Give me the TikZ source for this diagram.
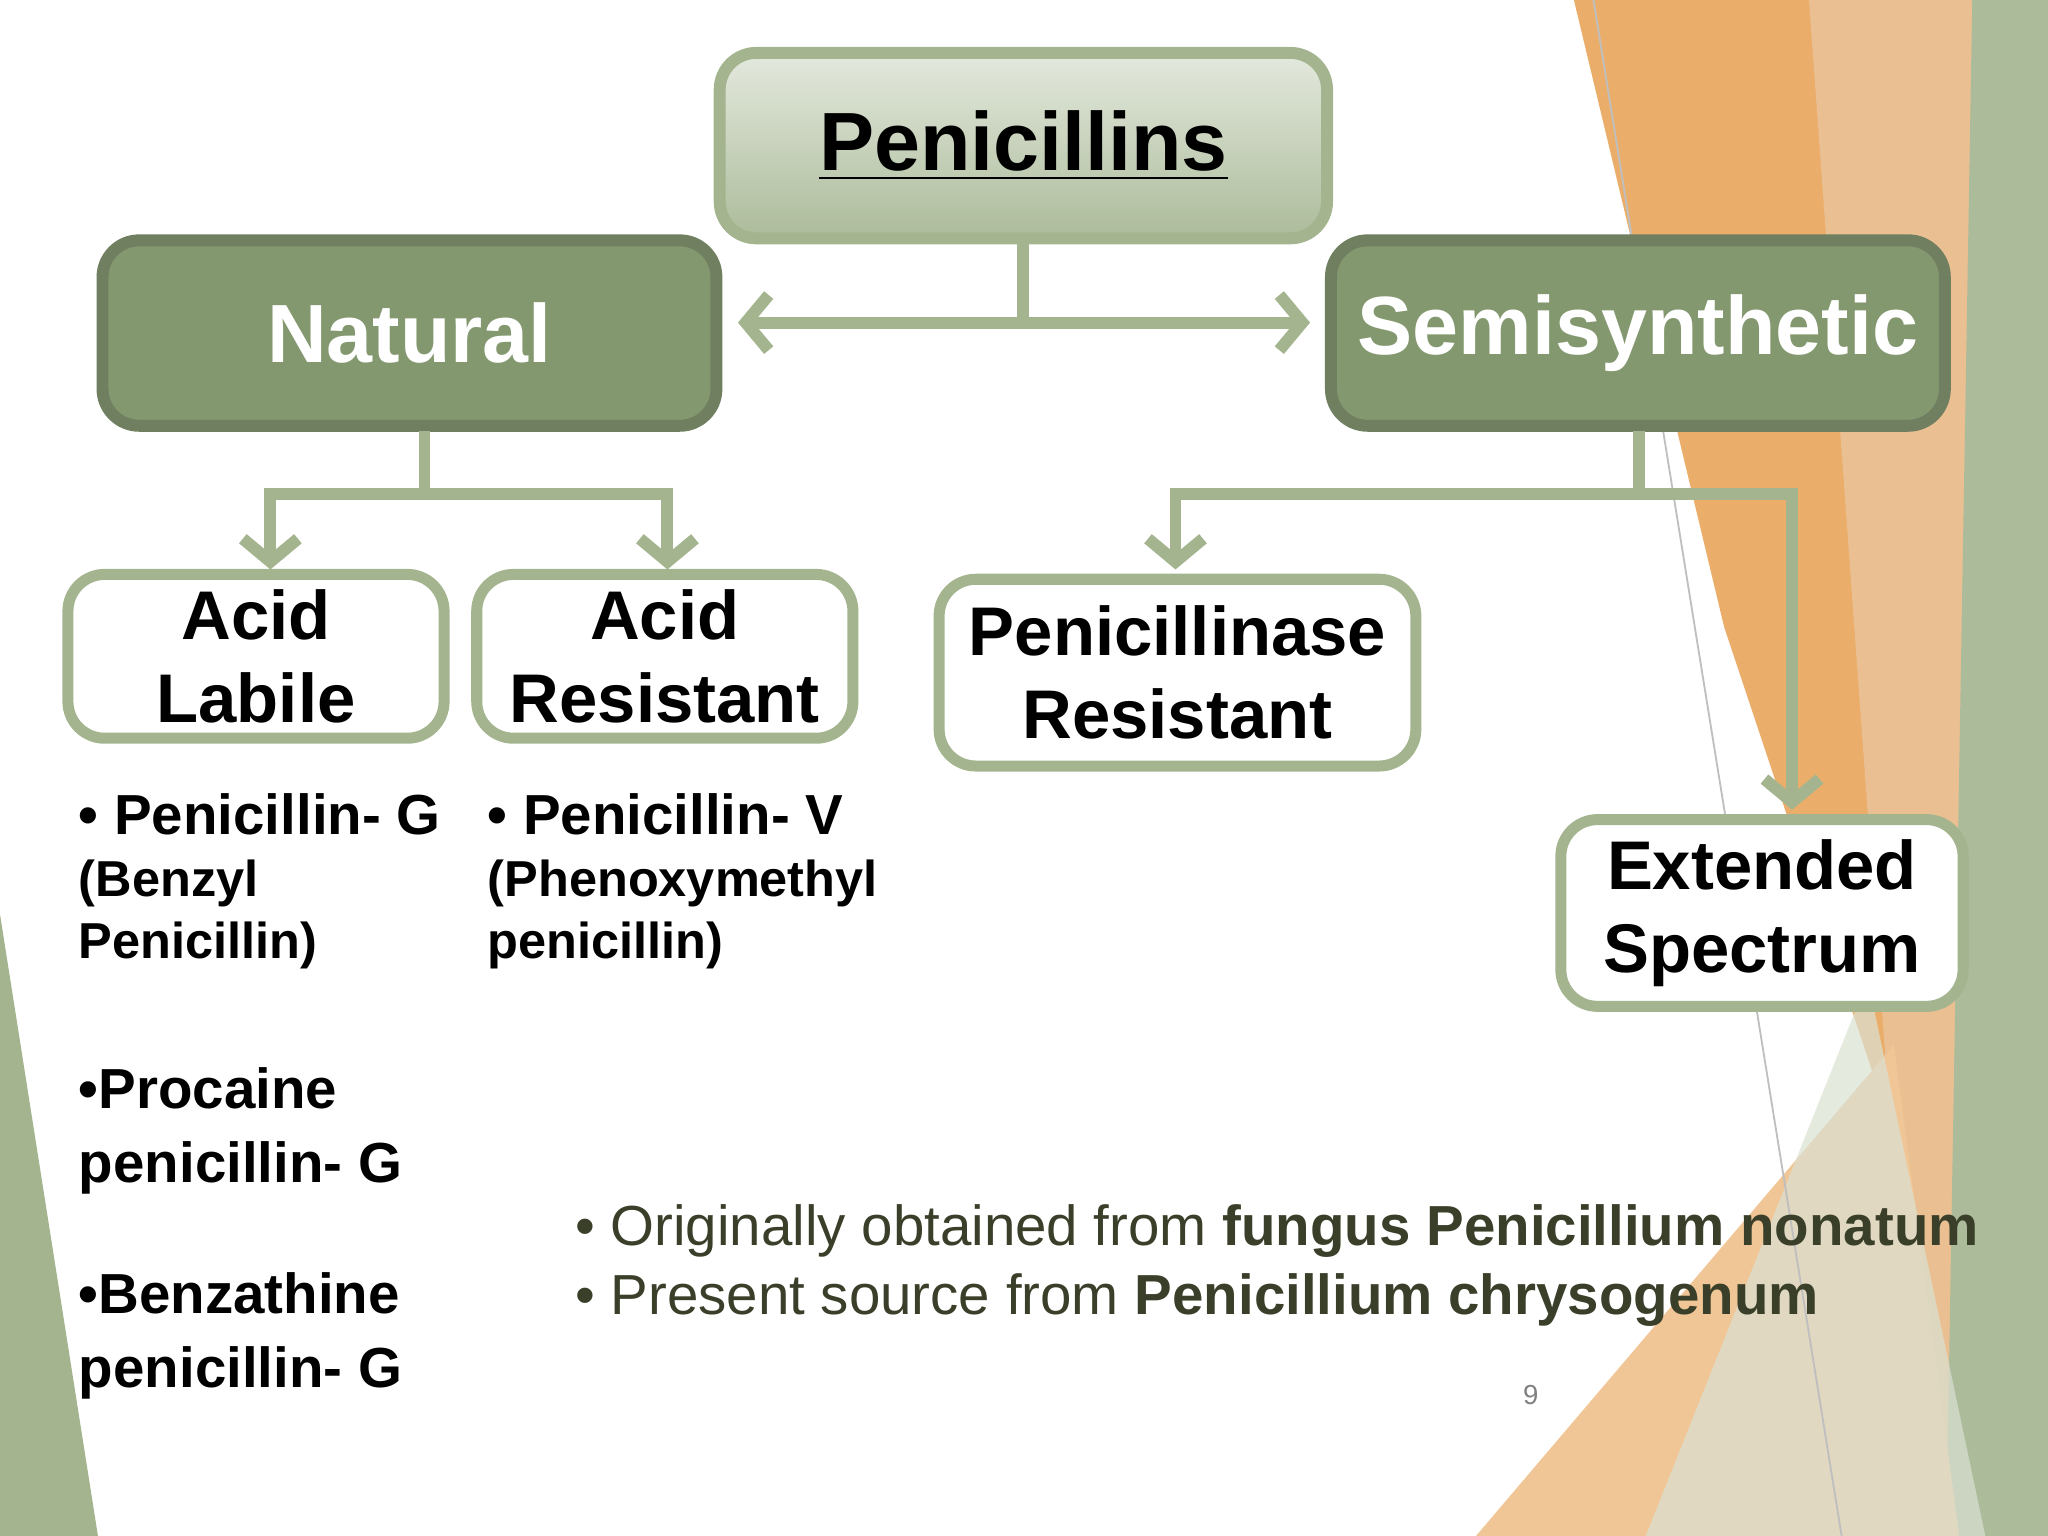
\documentclass[tikz,border=0pt]{standalone}
\usepackage{fontspec}
\setmainfont{Liberation Sans}
\usetikzlibrary{positioning,arrows.meta}
\definecolor{sage}{HTML}{A3B48F}
\definecolor{darksage}{HTML}{6F7F60}
\definecolor{midsage}{HTML}{849870}
\definecolor{olivetext}{HTML}{3A3F2A}
\definecolor{orng}{HTML}{E8A050}
\tikzset{
  headbox/.style={rounded corners=8pt,line width=2.6pt,minimum height=1.42cm,align=center,font=\bfseries\fontsize{18}{22}\selectfont},
  subbox/.style={rounded corners=8pt,line width=2.4pt,draw=sage,fill=white,align=center,font=\bfseries\fontsize{15}{18}\selectfont},
  link/.style={sage,line width=2.6pt},
  tip/.style={-{Straight Barb[length=5pt,width=12pt,line width=2.6pt]}},
  listtext/.style={anchor=north west,align=left,font=\bfseries\fontsize{11}{13.5}\selectfont}
}
\begin{document}
\begin{tikzpicture}[x=1cm,y=1cm]
    \useasboundingbox (0,0) rectangle (15.68,-11.76);
    % background decoration
    \fill[orng!85] (12.05,0) -- (13.9,0) -- (14.6,-9.0) -- (13.2,-4.8) -- cycle;
    \fill[orng!70!brown!60] (13.85,0) -- (15.68,0) -- (15.68,-11.76) -- (14.7,-11.76) -- cycle;
    \fill[sage!90] (15.1,0) -- (15.68,0) -- (15.68,-11.76) -- (14.9,-11.76) -- cycle;
    \fill[orng!60] (11.3,-11.76) -- (14.5,-8.0) -- (15.0,-11.76) -- cycle;
    \fill[sage!40,opacity=0.7] (12.6,-11.76) -- (14.3,-7.5) -- (15.2,-11.76) -- cycle;
    \fill[sage] (0,-7.0) -- (0.75,-11.76) -- (0,-11.76) -- cycle;
    \draw[gray!50,thin] (12.2,0) -- (14.1,-11.76);
    % boxes
    \node[headbox,draw=sage,top color=sage!30,bottom color=sage!90,minimum width=4.65cm]
        (pen) at (7.835,-1.115) {\underline{Penicillins}};
    \node[headbox,draw=darksage,fill=midsage,text=white,minimum width=4.7cm]
        (nat) at (3.135,-2.55) {Natural};
    \node[headbox,draw=darksage,fill=midsage,text=white,minimum width=4.7cm]
        (semi) at (12.54,-2.55) {Semisynthetic};
    \node[subbox,minimum width=2.88cm,minimum height=1.18cm] (lab) at (1.96,-5.025) {Acid\\Labile};
    \node[subbox,minimum width=2.88cm,minimum height=1.18cm] (res) at (5.09,-5.025) {Acid\\Resistant};
    \node[subbox,minimum width=3.65cm,minimum height=1.43cm] (pres) at (9.015,-5.15) {Penicillinase\\Resistant};
    \node[subbox,minimum width=3.08cm,minimum height=1.43cm] (ext) at (13.49,-6.99) {Extended\\Spectrum};
    % connectors
    \coordinate (pj) at (7.835,-2.47);
    \coordinate (pl) at (5.65,-2.47);
    \coordinate (pr) at (10.03,-2.47);
    \draw[link] (pen.south) -- (pj);
    \draw[link,tip] (pj) -- (pl);
    \draw[link,tip] (pj) -- (pr);
    \coordinate (nj) at (3.25,-3.78);
    \draw[link] (3.25,-3.3) -- (nj);
    \draw[link,tip] (nj) -| (2.07,-4.36);
    \draw[link,tip] (nj) -| (5.11,-4.36);
    \coordinate (sj) at (12.55,-3.78);
    \draw[link] (12.55,-3.3) -- (sj);
    \draw[link,tip] (sj) -| (9.0,-4.36);
    \draw[link,tip] (sj) -| (13.72,-6.2);
    % lists
    \node[listtext] (la) at (0.48,-5.95) {\fontsize{12.3}{14}\selectfont• Penicillin- G\\(Benzyl\\Penicillin)};
    \node[listtext] (ra) at (3.61,-5.95) {\fontsize{12.3}{14}\selectfont• Penicillin- V\\(Phenoxymethyl\\penicillin)};
    \node[listtext,font=\bfseries\fontsize{12.3}{16}\selectfont] (pc) at (0.48,-8.05) {•Procaine\\penicillin- G};
    \node[listtext,font=\bfseries\fontsize{12.3}{16}\selectfont] (bz) at (0.48,-9.62) {•Benzathine\\penicillin- G};
    \node[anchor=north west,align=left,text=olivetext,font=\fontsize{12.3}{15}\selectfont] (src) at (4.28,-9.1)
        {• Originally obtained from \textbf{fungus Penicillium nonatum}\\• Present source from \textbf{Penicillium chrysogenum}};
    \node[text=gray,font=\fontsize{6}{7}\selectfont] (pg) at (11.72,-10.68) {9};
\end{tikzpicture}
\end{document}
